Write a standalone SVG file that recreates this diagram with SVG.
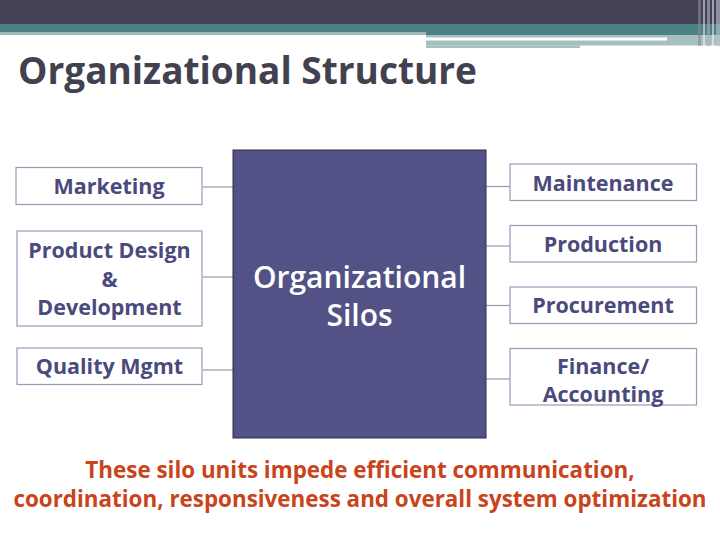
<svg xmlns="http://www.w3.org/2000/svg" width="720" height="540" viewBox="0 0 720 540">
<style>
.box{fill:#ffffff;stroke:#9a9ab8;stroke-width:1.2}
.lbl{font-family:"Open Sans","Liberation Sans",sans-serif;font-weight:700;font-size:21.5px;fill:#4a4a7c;text-anchor:middle}
.conn{stroke:#9a9aac;stroke-width:1.2;fill:none}
</style>
<rect x="0" y="0" width="720" height="540" fill="#ffffff"/>
<g id="header">
<rect x="0" y="0" width="720" height="24" fill="#424155"/>
<rect x="0" y="24" width="720" height="8" fill="#4a8285"/>
<rect x="0" y="32" width="426" height="3" fill="#9fbcbd"/>
<rect x="426" y="32" width="294" height="3" fill="#4a8285"/>
<rect x="426" y="35" width="294" height="10.5" fill="#a6bfc0"/>
<rect x="426" y="45.5" width="154" height="2.5" fill="#a6bfc0"/>
<rect x="426" y="37.5" width="241" height="3" fill="#ffffff"/>
<rect x="698" y="0" width="3" height="46" fill="#8a8a9a" opacity="0.6"/>
<rect x="703" y="0" width="2" height="46" fill="#ffffff" opacity="0.5"/>
<rect x="707" y="0" width="3" height="46" fill="#b0b0c0" opacity="0.6"/>
<rect x="712" y="0" width="2" height="46" fill="#ffffff" opacity="0.5"/>
<rect x="716" y="0" width="4" height="46" fill="#c0c4cc" opacity="0.6"/>
</g>
<text id="title" x="18" y="84" font-family="'Open Sans','Liberation Sans',sans-serif" font-weight="700" font-size="37" fill="#41414f">Organizational Structure</text>
<g id="connectors">
<line class="conn" x1="203" y1="187" x2="233" y2="187"/>
<line class="conn" x1="203" y1="277" x2="233" y2="277"/>
<line class="conn" x1="203" y1="370" x2="233" y2="370"/>
<line class="conn" x1="486" y1="186.5" x2="510" y2="186.5"/>
<line class="conn" x1="486" y1="246" x2="510" y2="246"/>
<line class="conn" x1="486" y1="305.5" x2="510" y2="305.5"/>
<line class="conn" x1="486" y1="379" x2="510" y2="379"/>
</g>
<g id="silos">
<rect x="233" y="150" width="253" height="288" fill="#525287" stroke="#2e2e48" stroke-width="1"/>
<text x="359.5" y="288" font-family="'Open Sans','Liberation Sans',sans-serif" font-weight="600" font-size="30" fill="#ffffff" text-anchor="middle">Organizational</text>
<text x="359.5" y="326" font-family="'Open Sans','Liberation Sans',sans-serif" font-weight="600" font-size="30" fill="#ffffff" text-anchor="middle">Silos</text>
</g>
<g id="marketing">
<rect class="box" x="16" y="167.5" width="186" height="37"/>
<text class="lbl" x="109" y="193.5">Marketing</text>
</g>
<g id="product-design">
<rect class="box" x="17" y="231" width="185" height="95"/>
<text class="lbl" x="109.5" y="258">Product Design</text>
<text class="lbl" x="109.5" y="286.5">&amp;</text>
<text class="lbl" x="109.5" y="315">Development</text>
</g>
<g id="quality">
<rect class="box" x="17" y="348" width="185" height="36.5"/>
<text class="lbl" x="109.5" y="373.5">Quality Mgmt</text>
</g>
<g id="maintenance">
<rect class="box" x="510" y="164" width="186.5" height="36.5"/>
<text class="lbl" x="603" y="190.5">Maintenance</text>
</g>
<g id="production">
<rect class="box" x="510" y="225.5" width="186.5" height="36.5"/>
<text class="lbl" x="603" y="251.5">Production</text>
</g>
<g id="procurement">
<rect class="box" x="510" y="287" width="186.5" height="36.5"/>
<text class="lbl" x="603" y="313">Procurement</text>
</g>
<g id="finance">
<rect class="box" x="510" y="348.5" width="186.5" height="56.5"/>
<text class="lbl" x="603" y="374">Finance/</text>
<text class="lbl" x="603" y="402">Accounting</text>
</g>
<g id="note" font-family="'Open Sans','Liberation Sans',sans-serif" font-weight="700" font-size="22.4" fill="#c9431b" text-anchor="middle">
<text x="360" y="478">These silo units impede efficient communication,</text>
<text x="360" y="507">coordination, responsiveness and overall system optimization</text>
</g>
</svg>
